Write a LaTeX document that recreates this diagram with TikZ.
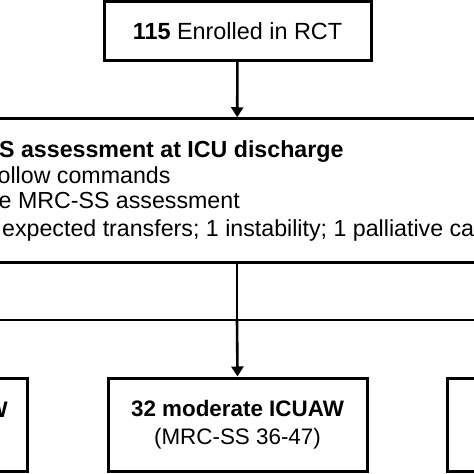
\documentclass[tikz,border=0pt]{standalone}
\usepackage{fontspec}
\setmainfont{Liberation Sans}
\usetikzlibrary{arrows.meta}
\tikzset{
  boxstyle/.style={draw=black, line width=3pt, rectangle, inner sep=0pt},
  conn/.style={draw=black, line width=2.6pt},
  arr/.style={conn, -{Triangle[width=12pt,length=10pt]}},
  bigtxt/.style={font=\fontsize{23.2}{26}\selectfont, inner sep=0pt, anchor=base west},
  midtxt/.style={font=\fontsize{22.4}{27.5}\selectfont, align=center}
}
\begin{document}
\begin{tikzpicture}[x=1pt,y=-1pt]
\useasboundingbox (0,0) rectangle (474,474);
\fill[white] (0,0) rectangle (474,474);
\clip (0,0) rectangle (474,474);

% top box
\node[boxstyle, minimum width=267pt, minimum height=58.5pt,
      font=\fontsize{23.4}{26}\selectfont] (top) at (237.5,31)
      {\textbf{115} Enrolled in RCT};

% big box (extends beyond the picture)
\node[boxstyle, minimum width=520pt, minimum height=143.5pt] (big) at (237,190.5) {};
\node[bigtxt] (l1) at (-1,157) {\textbf{S assessment at ICU discharge}};
\node[bigtxt] (l2) at (-2.5,183) {ollow commands};
\node[bigtxt] (l3) at (-1.5,208.5) {e MRC-SS assessment};
\node[bigtxt] (l4) at (2,236) {expected transfers; 1 instability; 1 palliative ca};

% bottom boxes
\node[boxstyle, minimum width=259pt, minimum height=93pt, midtxt] (mid) at (237.5,424.5)
  {\textbf{32 moderate ICUAW}\\(MRC-SS 36-47)};
\node[boxstyle, minimum width=260pt, minimum height=93pt] (left) at (-103,424.5) {};
\node[boxstyle, minimum width=260pt, minimum height=93pt] (right) at (577,424.5) {};
\node[font=\fontsize{22.4}{27.5}\selectfont\bfseries, inner sep=0pt, anchor=base east] (lw) at (8,417) {W};

% connectors
\draw[arr] (top) -- (big);
\coordinate (split) at (237,320);
\coordinate (hl) at (-20,320);
\coordinate (hr) at (494,320);
\draw[conn] (big.south) -- (split);
\draw[conn] (hl) -- (hr);
\draw[arr] (split) -- (mid.north);
\end{tikzpicture}
\end{document}
